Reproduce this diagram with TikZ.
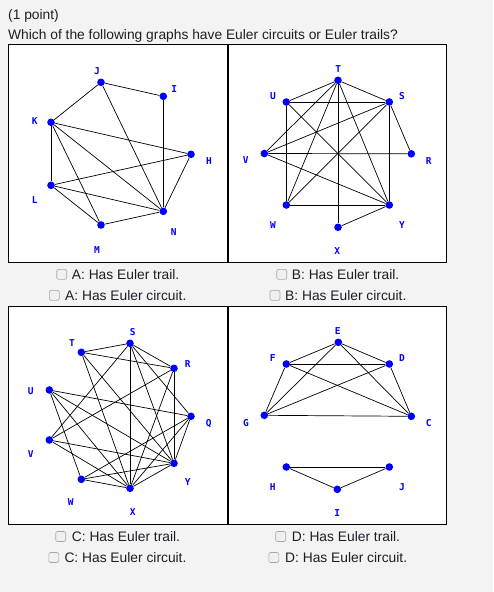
\documentclass[tikz,border=0pt]{standalone}
\usepackage{fontspec}
\setmainfont{Liberation Sans}
\newfontfamily\pixfont{DejaVu Sans Mono}
\usepackage{xcolor}

\definecolor{dotblue}{RGB}{0,0,255}
\definecolor{pagegray}{RGB}{243,243,243}
\definecolor{txtdark}{RGB}{30,30,40}

\begin{document}
\begin{tikzpicture}[x=1pt,y=-1pt,
  dot/.style={circle,fill=dotblue,inner sep=0pt,minimum size=7.6pt},
  lbl/.style={text=dotblue,font=\pixfont\bfseries\fontsize{9.5}{10}\selectfont,inner sep=0pt},
  edge/.style={line width=0.7pt},
  chk/.style={draw=gray!70,fill=gray!12,rounded corners=2pt,minimum size=10pt,inner sep=0pt,line width=0.6pt},
  opt/.style={anchor=base west,inner sep=0pt,text=txtdark,font=\fontsize{13.8}{16}\selectfont}]

\fill[pagegray] (0,0) rectangle (493,592);
\useasboundingbox (0,0) rectangle (493,592);

\node[opt] (pts) at (8,19.5) {(1 point)};
\node[opt] (quest) at (8,39) {Which of the following graphs have Euler circuits or Euler trails?};

% the four panels
\foreach \x/\y/\w in {8.5/44.5/219, 228.5/44.5/218, 8.5/306.5/219, 228.5/306.5/218} {
    \draw[fill=white,line width=1pt] (\x,\y) rectangle ++(\w,218);
}

% graph A
\foreach \n/\x/\y in {aJ/101/82.3, aI/163.3/96.3, aK/51/122.3, aH/191/154.3, aL/51/185.3, aN/163.3/211.3, aM/101/225} {
    \node[dot] (\n) at (\x,\y) {};
}
\foreach \n/\t/\x/\y in {aJ/J/97/71, aI/I/174.3/89, aK/K/34.7/121, aH/H/209/160.7, aL/L/34.7/200.3, aN/N/173.7/232, aM/M/97/250.3} {
    \node[lbl] (\n-l) at (\x,\y) {\t};
}
\foreach \a/\b in {aJ/aI, aJ/aK, aJ/aN, aI/aN, aK/aH, aK/aL, aK/aM, aK/aN, aH/aL, aH/aN, aL/aN, aL/aM, aM/aN} {
    \draw[edge] (\a) -- (\b);
}

% graph B
\foreach \n/\x/\y in {bT/338/80.3, bU/286.3/102, bS/389.3/102, bV/264.3/153.5, bR/411.3/153.8, bW/286.3/205, bY/389.3/205, bX/338/227.3} {
    \node[dot] (\n) at (\x,\y) {};
}
\foreach \n/\t/\x/\y in {bT/T/338.3/69.3, bU/U/273/96, bS/S/402/96, bV/V/245.7/160, bR/R/428.7/160.7, bW/W/273/225, bY/Y/402/225, bX/X/337.3/251.3} {
    \node[lbl] (\n-l) at (\x,\y) {\t};
}
\foreach \a/\b in {bT/bU, bT/bS, bT/bV, bT/bW, bT/bY, bT/bX, bU/bS, bU/bW, bU/bY, bS/bV, bS/bR, bS/bW, bS/bY, bV/bR, bV/bY, bW/bY, bX/bY} {
    \draw[edge] (\a) -- (\b);
}

% graph C
\foreach \n/\x/\y in {cS/130/343.3, cT/81.3/352.3, cR/174/368.3, cU/49.3/390, cQ/191/416.3, cV/49.3/440, cY/174/463.3, cW/81.3/479.3, cX/130/488.3} {
    \node[dot] (\n) at (\x,\y) {};
}
\foreach \n/\t/\x/\y in {cS/S/132.7/332.3, cT/T/72/343.3, cR/R/187.7/364, cU/U/30.7/391, cQ/Q/208.7/423.3, cV/V/30.7/454, cY/Y/187.7/481.7, cW/W/70.7/501.7, cX/X/132.7/512.3} {
    \node[lbl] (\n-l) at (\x,\y) {\t};
}
\foreach \a/\b in {cS/cT, cS/cR, cS/cX, cS/cQ, cS/cY, cS/cV, cT/cR, cT/cX, cT/cY, cR/cY, cR/cV, cR/cX, cU/cQ, cU/cY, cU/cX, cU/cW, cQ/cW, cQ/cX, cQ/cY, cV/cY, cV/cX, cW/cY, cW/cX, cX/cY} {
    \draw[edge] (\a) -- (\b);
}

% graph D
\foreach \n/\x/\y in {dE/338.3/342.3, dF/286.3/364, dD/389.3/364, dG/264.3/415.3, dC/411.3/416.3, dH/286.3/467, dJ/389.3/467, dI/337.3/489.3} {
    \node[dot] (\n) at (\x,\y) {};
}
\foreach \n/\t/\x/\y in {dE/E/337.7/331, dF/F/272.7/358.3, dD/D/402/358.3, dG/G/246/422.7, dC/C/428.7/423.3, dH/H/272.7/487.3, dJ/J/402/487.3, dI/I/337.3/513.3} {
    \node[lbl] (\n-l) at (\x,\y) {\t};
}
\foreach \a/\b in {dE/dF, dE/dD, dE/dG, dE/dC, dF/dD, dF/dG, dF/dC, dD/dG, dD/dC, dG/dC, dH/dJ, dH/dI, dI/dJ} {
    \draw[edge] (\a) -- (\b);
}

% answer choices
\foreach \n/\cx/\cy/\tx/\ty/\t in {tA/61.7/274.3/71.7/279.3/A: Has Euler trail., cA/54.3/295.3/65/300.3/A: Has Euler circuit.,
    tB/281.7/274.3/291.7/279.3/B: Has Euler trail., cB/275/295.3/285/300.3/B: Has Euler circuit.,
    tC/60.7/536.5/71.7/541.5/C: Has Euler trail., cC/53.8/557.5/64.3/562.5/C: Has Euler circuit.,
    tD/280.7/536.5/291.7/541.5/D: Has Euler trail., cD/273.8/557.5/285/562.5/D: Has Euler circuit.} {
    \node[chk] (\n-box) at (\cx,\cy) {};
    \node[opt] (\n) at (\tx,\ty) {\t};
}

\end{tikzpicture}
\end{document}
